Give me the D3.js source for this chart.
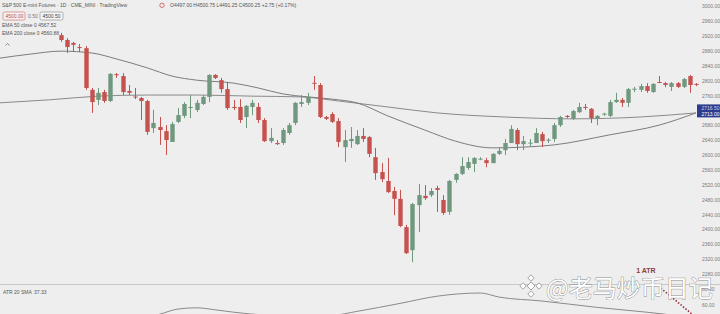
<!DOCTYPE html>
<meta charset="utf-8">
<script src="https://d3js.org/d3.v7.min.js"></script>
<style>
  body { margin: 0; background: #eeeeee; overflow: hidden; }
  svg { display: block; font-family: "Liberation Sans", Arial, sans-serif; }
</style>
<svg width="720" height="314"></svg>
<script>
// daily candles, [open, high, low, close]
var ohlc = [
  [2922,2928,2904,2909],[2909,2914,2874,2890],[2901,2904,2877,2896],[2890,2898,2877,2888],
  [2887,2893,2775,2780],[2775,2780,2713,2742],[2748,2780,2734,2767],[2769,2775,2740,2745],
  [2745,2820,2742,2818],[2817,2820,2807,2815],[2812,2820,2761,2769],[2772,2788,2761,2767],
  [2757,2780,2750,2755],[2753,2756,2694,2745],[2745,2748,2654,2662],[2672,2721,2659,2686],
  [2675,2702,2627,2667],[2664,2680,2600,2640],[2635,2689,2635,2683],[2689,2726,2686,2707],
  [2705,2742,2699,2737],[2726,2761,2699,2729],[2721,2748,2715,2740],[2737,2761,2734,2756],
  [2756,2817,2742,2815],[2815,2817,2804,2807],[2801,2807,2767,2777],[2777,2796,2721,2726],
  [2729,2748,2721,2726],[2729,2750,2686,2694],[2702,2734,2672,2732],[2729,2748,2707,2740],
  [2729,2740,2686,2694],[2694,2699,2635,2637],[2637,2672,2632,2646],[2632,2640,2627,2629],
  [2632,2672,2627,2667],[2659,2686,2654,2680],[2686,2742,2680,2740],[2737,2761,2729,2742],
  [2740,2767,2734,2756],[2794,2812,2775,2792],[2788,2793,2699,2702],[2702,2705,2694,2697],
  [2710,2715,2686,2689],[2691,2699,2621,2635],[2621,2667,2581,2640],[2637,2675,2619,2643],
  [2629,2667,2627,2651],[2651,2672,2635,2643],[2648,2651,2594,2603],[2594,2619,2533,2551],
  [2554,2578,2527,2535],[2530,2592,2498,2500],[2503,2514,2438,2482],[2482,2506,2406,2409],
  [2406,2412,2334,2336],[2344,2471,2312,2468],[2465,2522,2393,2492],[2490,2519,2479,2484],
  [2492,2511,2487,2503],[2511,2517,2447,2506],[2479,2492,2439,2444],[2447,2533,2439,2530],
  [2533,2551,2525,2549],[2549,2594,2546,2570],[2565,2594,2560,2581],[2576,2594,2554,2592],
  [2589,2594,2586,2590],[2586,2592,2567,2578],[2578,2605,2578,2603],[2603,2621,2600,2611],
  [2613,2643,2600,2632],[2632,2680,2632,2670],[2667,2672,2613,2629],[2629,2651,2613,2637],
  [2632,2643,2624,2633],[2632,2672,2632,2659],[2656,2662,2621,2637],[2640,2645,2632,2641],
  [2643,2686,2635,2680],[2680,2705,2675,2702],[2705,2707,2699,2702],[2697,2721,2694,2718],
  [2715,2740,2713,2729],[2729,2737,2721,2728],[2724,2726,2686,2699],[2697,2707,2680,2705],
  [2710,2713,2705,2711],[2705,2748,2702,2742],[2742,2767,2740,2748],[2748,2753,2729,2740],
  [2740,2780,2729,2777],[2777,2783,2769,2778],[2775,2791,2769,2785],[2785,2793,2767,2772],
  [2769,2793,2767,2791],[2796,2812,2793,2795],[2793,2796,2782,2788],[2783,2796,2772,2793],
  [2793,2796,2780,2783],[2783,2807,2780,2804],[2812,2815,2767,2788],[2791,2793,2785,2790]
];

// moving averages, [bar index, value]
var ema50 = [[-10,2860],[-5,2871],[0,2879],[5,2874],[9,2858],[14,2834],[18,2812],[22,2801],
  [28,2793],[32,2780],[36,2764],[40,2756],[44,2750],[48,2740],[53,2705],[59,2667],
  [64,2637],[70,2619],[75,2621],[80,2627],[89,2654],[97,2680],[103,2713]];
var ema200 = [[-10,2740],[-2,2748],[6,2758],[14,2761],[22,2761],[31,2758],[39,2756],
  [45,2745],[53,2729],[61,2713],[72,2702],[83,2697],[94,2702],[103,2713]];

// ATR 20 SMA, [bar index, value]
var atr = [[12,42],[16,48.5],[19,55],[22,56.5],[25,54],[28,51],[32,48],[39,46],[44,47],
  [48,52],[55,62],[61,71],[68,75],[71,70],[78,65],[87,57],[95,51],[103,44]];

var priceTicks = [3000,2960,2920,2880,2840,2800,2760,2680,2640,2600,2560,2520,2480,2440,2400,2360,2320,2280];
var atrTicks = [80, 60];

var svg = d3.select("svg");
var W = 720;

var x = d3.scaleLinear().domain([0, 103]).range([61, 696]);
var y = d3.scaleLinear().domain([2280, 2960]).range([274, 21]);
var ya = d3.scaleLinear().domain([60, 80]).range([305, 289]);

var red = "#c5524f", green = "#6f987f";

svg.append("defs").append("clipPath").attr("id", "pricePane")
  .append("rect").attr("x", 0).attr("y", 0).attr("width", 700).attr("height", 284);
svg.select("defs").append("clipPath").attr("id", "atrPane")
  .append("rect").attr("x", 0).attr("y", 285).attr("width", 700).attr("height", 29);

// pane separator
svg.append("line").attr("x1", 0).attr("x2", W).attr("y1", 284.5).attr("y2", 284.5)
  .attr("stroke", "#c9c9c9");

var price = svg.append("g").attr("clip-path", "url(#pricePane)");

var line = d3.line().x(function(d) { return x(d[0]); }).y(function(d) { return y(d[1]); })
  .curve(d3.curveMonotoneX);
price.append("path").datum(ema200).attr("d", line)
  .attr("fill", "none").attr("stroke", "#8a8a8a").attr("stroke-width", 1);
price.append("path").datum(ema50).attr("d", line)
  .attr("fill", "none").attr("stroke", "#7c7c7c").attr("stroke-width", 1);

var bars = price.selectAll("g.bar").data(ohlc).enter().append("g").attr("class", "bar");
bars.append("line")
  .attr("x1", function(d, i) { return Math.round(x(i)) + 0.5; })
  .attr("x2", function(d, i) { return Math.round(x(i)) + 0.5; })
  .attr("y1", function(d) { return y(d[1]); })
  .attr("y2", function(d) { return y(d[2]); })
  .attr("stroke", function(d) { return d[3] >= d[0] ? green : red; })
  .attr("stroke-width", 1);
bars.append("rect")
  .attr("x", function(d, i) { return Math.round(x(i)) + 0.5 - 2.2; })
  .attr("width", 4.4)
  .attr("y", function(d) { return y(Math.max(d[0], d[3])); })
  .attr("height", function(d) { return Math.max(1, Math.abs(y(d[0]) - y(d[3]))); })
  .attr("fill", function(d) { return d[3] >= d[0] ? green : red; });

// right price axis
var axis = svg.append("g").attr("transform", "translate(700,0)")
  .call(d3.axisRight(y).tickValues(priceTicks).tickSize(0).tickPadding(2)
    .tickFormat(d3.format(".2f")));
axis.select(".domain").remove();
axis.selectAll("text").attr("fill", "#7a7a7a").attr("font-size", 5)
  .attr("font-family", "Liberation Sans, Arial, sans-serif");

// MA value tag
var last = ema50[ema50.length - 1][1];
svg.append("rect").attr("x", 697).attr("y", y(last) - 8.5).attr("width", 23).attr("height", 13)
  .attr("fill", "#2d3d8e");
svg.append("text").attr("x", 701.5).attr("y", y(last) - 3).attr("font-size", 5)
  .attr("fill", "#c9d2f2").text("2716.50");
svg.append("text").attr("x", 701.5).attr("y", y(last) + 3).attr("font-size", 5)
  .attr("fill", "#ffffff").text(d3.format(".2f")(last));

// ATR pane
var atrPane = svg.append("g").attr("clip-path", "url(#atrPane)");
atrPane.append("path").datum(atr)
  .attr("d", d3.line().x(function(d) { return x(d[0]); }).y(function(d) { return ya(d[1]); })
    .curve(d3.curveMonotoneX))
  .attr("fill", "none").attr("stroke", "#8a8a8a").attr("stroke-width", 1);

var aAxis = svg.append("g").attr("transform", "translate(700,0)")
  .call(d3.axisRight(ya).tickValues(atrTicks).tickSize(0).tickPadding(2)
    .tickFormat(d3.format(".2f")));
aAxis.select(".domain").remove();
aAxis.selectAll("text").attr("fill", "#7a7a7a").attr("font-size", 5)
  .attr("font-family", "Liberation Sans, Arial, sans-serif");

svg.append("text").attr("x", 3).attr("y", 294).attr("font-size", 5).attr("fill", "#555")
  .text("ATR 20 SMA");
svg.append("text").attr("x", 34).attr("y", 294).attr("font-size", 5).attr("fill", "#555")
  .text("37.33");

// 1 ATR annotation
svg.append("line")
  .attr("x1", x(97.3)).attr("y1", ya(81)).attr("x2", x(102.6)).attr("y2", ya(47))
  .attr("stroke", "#8c2233").attr("stroke-width", 1.6).attr("stroke-dasharray", "1.4,1.8");
svg.append("text").attr("x", x(93.3)).attr("y", ya(99.5)).attr("font-size", 7)
  .attr("font-weight", "bold").attr("fill", "#8a4040").text("1 ATR");

// legend
var lg = svg.append("g").attr("fill", "#555").attr("font-size", 5);
lg.append("text").attr("x", 2).attr("y", 7)
  .text("S&P 500 E-mini Futures · 1D · CME_MINI · TradingView");
lg.append("circle").attr("cx", 162).attr("cy", 5.3).attr("r", 2.2)
  .attr("fill", "none").attr("stroke", "#d05050").attr("stroke-width", 0.8);
lg.append("text").attr("x", 170).attr("y", 7)
  .text("O4497.00 H4500.75 L4491.25 C4500.25 +2.75 (+0.17%)");
lg.append("rect").attr("x", 3).attr("y", 12).attr("width", 22).attr("height", 8).attr("rx", 1.5)
  .attr("fill", "#f4f4f4").attr("stroke", "#d06060").attr("stroke-width", 0.6);
lg.append("text").attr("x", 5.5).attr("y", 17.8).attr("fill", "#c04848").text("4500.00");
lg.append("text").attr("x", 28).attr("y", 17.8).attr("fill", "#777").text("0.50");
lg.append("rect").attr("x", 40).attr("y", 12).attr("width", 23).attr("height", 8).attr("rx", 1.5)
  .attr("fill", "#f4f4f4").attr("stroke", "#888").attr("stroke-width", 0.6);
lg.append("text").attr("x", 42.5).attr("y", 17.8).attr("fill", "#444").text("4500.50");
lg.append("text").attr("x", 2).attr("y", 27).text("EMA 50 close 0  4567.52");
lg.append("text").attr("x", 2).attr("y", 35).text("EMA 200 close 0  4560.88");
lg.append("path").attr("d", "M5.5,45.5 L7.5,43.5 L9.5,45.5").attr("fill", "none")
  .attr("stroke", "#666").attr("stroke-width", 0.7);

// watermark
var wm = svg.append("g").attr("fill", "#ffffff").attr("stroke", "#8f8f8f").attr("stroke-width", 0.8);
var cx = 531, cy = 286;
function diamond(px, py, r) {
  return "M" + px + "," + (py - r) + "L" + (px + r) + "," + py + "L" + px + "," + (py + r) + "L" + (px - r) + "," + py + "Z";
}
wm.append("path").attr("d", diamond(cx, cy, 4));
wm.append("path").attr("d", diamond(cx, cy - 8, 3.2));
wm.append("path").attr("d", diamond(cx, cy + 8, 3.2));
wm.append("path").attr("d", diamond(cx - 8, cy, 3.2));
wm.append("path").attr("d", diamond(cx + 8, cy, 3.2));
wm.append("text").attr("x", 546).attr("y", 297)
  .attr("font-family", "Noto Sans CJK SC, sans-serif").attr("font-size", 24)
  .attr("stroke-width", 0.9).attr("paint-order", "stroke")
  .text("@老马炒币日记");
</script>
